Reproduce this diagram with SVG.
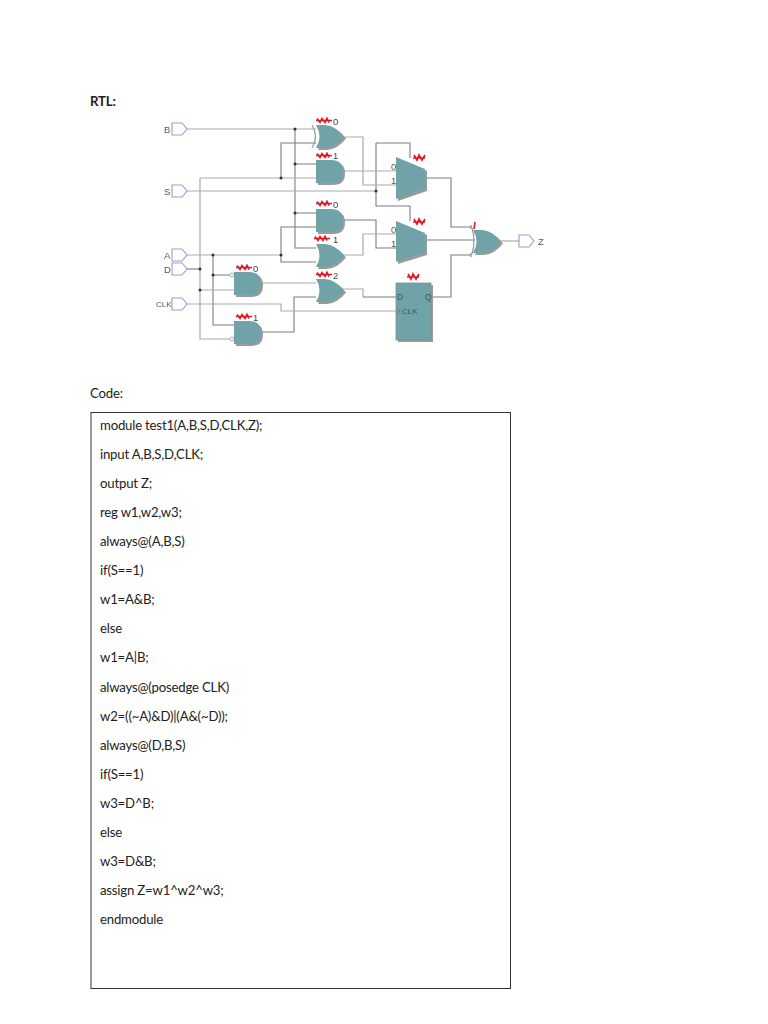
<svg xmlns="http://www.w3.org/2000/svg" width="768" height="1024" viewBox="0 0 768 1024">
<style>
.doc{font-family:"Lato","Liberation Sans",sans-serif;font-size:13.2px;letter-spacing:-.2px;fill:#222}
.b{font-weight:bold}
.w{fill:none;stroke:#ababab;stroke-width:1.2}
.d{fill:none;stroke:#7d7d7d;stroke-width:1.1}
.body{fill:#6fa3a8}
.sh{fill:#9a9a9a}
.pin{fill:#fff;stroke:#9a9ad8;stroke-width:1.1}
.lab{font-family:"Liberation Sans",sans-serif;font-size:9.5px;fill:#555}
.clk{font-size:8px}
.ffl{font-family:"Liberation Sans",sans-serif;font-size:8.5px;fill:#2f5a60}
.idx{font-family:"Liberation Sans",sans-serif;font-size:9.5px;fill:#444}
.red{fill:none;stroke:#e01f26;stroke-width:1.7}
.dot{fill:#333}
.bub{fill:#fff;stroke:#999;stroke-width:.8}
.arc{fill:none;stroke:#8a9ea0;stroke-width:1.2}
.soft{filter:url(#soft)}
</style>
<defs>
<filter id="soft" x="-5%" y="-5%" width="110%" height="110%"><feGaussianBlur stdDeviation=".35"/></filter>
<path id="andS" d="M0 0H15Q27 0 27 11.500Q27 23 15 23H0Z"/>
<path id="orS" d="M0 0H9Q20 1 28 11.500Q20 22 9 23H0Q7 11.500 0 0Z"/>
<path id="pinS" d="M0 0H10L15 6L10 12H0Z"/>
<path id="scr" d="M0 2.500H16M1 0.500L4 4.500L6 0.500L9 4.500L11 0.500L13 4.500"/>
<path id="scr2" d="M0 3H12M1 0L4 5L6 0L9 5L12 0"/>
</defs>
<text class="doc b" x="90" y="106">RTL:</text>
<text class="doc" x="90" y="398">Code:</text>
<g class="soft">
<g id="connectors">
<path class="w" d="M187 129H316"/>
<path class="d" d="M295 129V248H316M295 164H316M295 213H316"/>
<path class="d" d="M316 143H281V178"/>
<path class="w" d="M200 178H316M200 178V339H234"/>
<path class="w" d="M187 191H376"/>
<path class="d" d="M376 143V206H410V221M376 143H410V158"/>
<path class="w" d="M187 255H281"/>
<path class="d" d="M316 227H281V262H316"/>
<path class="d" d="M187 269H200"/>
<path class="d" d="M213 255V325H234M213 275H234"/>
<path class="w" d="M200 290H234"/>
<path class="w" d="M262 283H316"/>
<path class="d" d="M262 332H294V297H316"/>
<path class="w" d="M187 304H281V311H398"/>
<path class="w" d="M343 137H363V185H396"/>
<path class="w" d="M343 171H396"/>
<path class="d" d="M343 220H376V248H396"/>
<path class="w" d="M343 255H363V234H396"/>
<path class="w" d="M343 289H363V297"/>
<path class="d" d="M363 297H398"/>
<path class="d" d="M425 178H451V227H471"/>
<path class="d" d="M425 240H475"/>
<path class="d" d="M431 297H451V255H471"/>
<path class="d" d="M471 225V229M471 253V257"/>
<path class="w" d="M499 241H519"/>
<circle class="dot" cx="295" cy="129" r="1.500"/>
<circle class="dot" cx="295" cy="164" r="1.500"/>
<circle class="dot" cx="295" cy="213" r="1.500"/>
<circle class="dot" cx="281" cy="178" r="1.500"/>
<circle class="dot" cx="281" cy="255" r="1.500"/>
<circle class="dot" cx="376" cy="191" r="1.500"/>
<circle class="dot" cx="213" cy="255" r="1.500"/>
<circle class="dot" cx="213" cy="275" r="1.500"/>
<circle class="dot" cx="200" cy="269" r="1.500"/>
<circle class="dot" cx="200" cy="290" r="1.500"/>
</g>
<g id="pin-B"><use href="#pinS" class="pin" x="172" y="123"/><text class="lab" x="164" y="132.500">B</text></g>
<g id="pin-S"><use href="#pinS" class="pin" x="172" y="185"/><text class="lab" x="164" y="194.500">S</text></g>
<g id="pin-A"><use href="#pinS" class="pin" x="172" y="249"/><text class="lab" x="164" y="258.500">A</text></g>
<g id="pin-D"><use href="#pinS" class="pin" x="172" y="263"/><text class="lab" x="164" y="272.500">D</text></g>
<g id="pin-CLK"><use href="#pinS" class="pin" x="172" y="298"/><text class="lab clk" x="156" y="307">CLK</text></g>
<g id="pin-Z"><use href="#pinS" class="pin" x="519" y="235"/><text class="lab" x="538" y="244.500">Z</text></g>
<g id="xor-top">
<use href="#orS" class="sh" x="318" y="127"/><use href="#orS" class="body" x="316" y="125"/>
<path class="arc" d="M312 125Q319 136.500 312 148"/>
<use href="#scr" class="red" x="316" y="118"/><text class="idx" x="333" y="124.500">0</text>
</g>
<g id="and-w3-1">
<use href="#andS" class="sh" x="318" y="162"/><use href="#andS" class="body" x="316" y="160"/>
<use href="#scr" class="red" x="316" y="153"/><text class="idx" x="333" y="159">1</text>
</g>
<g id="and-w1-0">
<use href="#andS" class="sh" x="318" y="211"/><use href="#andS" class="body" x="316" y="209"/>
<use href="#scr" class="red" x="316" y="201"/><text class="idx" x="333" y="207.500">0</text>
</g>
<g id="or-w1-1">
<use href="#orS" class="sh" x="318" y="246"/><use href="#orS" class="body" x="316" y="244"/>
<use href="#scr" class="red" x="314" y="236"/><text class="idx" x="333" y="243">1</text>
</g>
<g id="or-w2-2">
<use href="#orS" class="sh" x="318" y="281"/><use href="#orS" class="body" x="316" y="279"/>
<use href="#scr" class="red" x="316" y="272"/><text class="idx" x="333" y="279">2</text>
</g>
<g id="and-w2-0">
<use href="#andS" class="sh" x="236" y="274"/><use href="#andS" class="body" x="234" y="272"/>
<circle class="bub" cx="232" cy="275" r="2"/>
<use href="#scr" class="red" x="236" y="265"/><text class="idx" x="253" y="272">0</text>
</g>
<g id="and-w2-1">
<use href="#andS" class="sh" x="236" y="323"/><use href="#andS" class="body" x="234" y="321"/>
<circle class="bub" cx="232" cy="339" r="2"/>
<use href="#scr" class="red" x="236" y="314"/><text class="idx" x="253" y="321">1</text>
</g>
<g id="mux-1">
<path class="sh" d="M398 159L427 171V191L398 201Z"/><path class="body" d="M396 157L425 169V189L396 199Z"/>
<text class="lab" x="391" y="170">0</text><text class="lab" x="391" y="184">1</text>
<use href="#scr2" class="red" x="413" y="155"/>
</g>
<g id="mux-2">
<path class="sh" d="M398 223L427 235V255L398 264Z"/><path class="body" d="M396 221L425 233V252L396 262Z"/>
<text class="lab" x="391" y="233">0</text><text class="lab" x="391" y="247">1</text>
<use href="#scr2" class="red" x="413" y="219"/>
</g>
<g id="xor-final">
<use href="#orS" class="sh" x="475" y="232"/><use href="#orS" class="body" x="473" y="230"/>
<path class="arc" d="M472 228Q476 241 472 254"/>
<path class="red" d="M475 222L474 229"/>
</g>
<g id="ff">
<rect class="sh" x="398" y="285" width="35" height="57"/>
<rect class="body" x="396" y="283" width="35" height="57" stroke="#7d8f90" stroke-width=".8"/>
<text class="ffl" x="397" y="300">D</text>
<text class="ffl" x="425" y="300">Q</text>
<text class="ffl" x="402" y="314" style="font-size:8px">CLK</text>
<path class="d" d="M397 309L400 311L397 313"/>
<use href="#scr2" class="red" x="407" y="274"/>
</g>
</g>
<g id="code">
<rect x="91" y="412.500" width="419.500" height="576" fill="none" stroke="#333" stroke-width="1"/>
<text class="doc" x="100" y="430">module test1(A,B,S,D,CLK,Z);</text>
<text class="doc" x="100" y="459">input A,B,S,D,CLK;</text>
<text class="doc" x="100" y="488">output Z;</text>
<text class="doc" x="100" y="517">reg w1,w2,w3;</text>
<text class="doc" x="100" y="546">always@(A,B,S)</text>
<text class="doc" x="100" y="575">if(S==1)</text>
<text class="doc" x="100" y="604">w1=A&amp;B;</text>
<text class="doc" x="100" y="633">else</text>
<text class="doc" x="100" y="662">w1=A|B;</text>
<text class="doc" x="100" y="692">always@(posedge CLK)</text>
<text class="doc" x="100" y="721">w2=((~A)&amp;D)|(A&amp;(~D));</text>
<text class="doc" x="100" y="750">always@(D,B,S)</text>
<text class="doc" x="100" y="779">if(S==1)</text>
<text class="doc" x="100" y="808">w3=D^B;</text>
<text class="doc" x="100" y="837">else</text>
<text class="doc" x="100" y="866">w3=D&amp;B;</text>
<text class="doc" x="100" y="895">assign Z=w1^w2^w3;</text>
<text class="doc" x="100" y="924">endmodule</text>
</g>
</svg>
